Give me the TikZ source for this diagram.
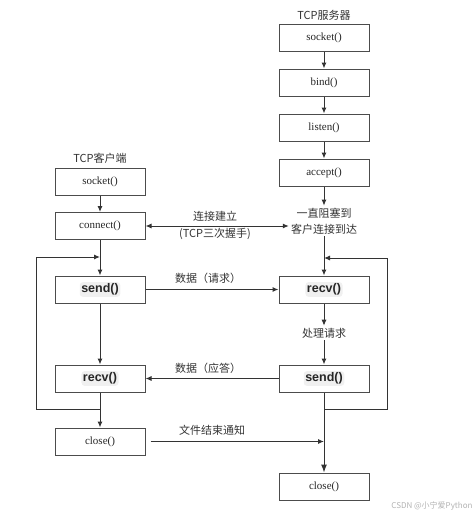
\documentclass[tikz,border=0pt]{standalone}
\usepackage{fontspec}
\setmainfont{Liberation Serif}
\newfontfamily\cjk{Noto Sans CJK SC}
\newfontfamily\arialb{Liberation Sans}
\usetikzlibrary{arrows.meta}

\tikzset{
  fn/.style={draw=black!70, line width=1pt, minimum width=90pt, minimum height=27pt, inner sep=0pt, text=black!85, font=\fontsize{11}{13}\selectfont},
  hot/.style={fn, font=\arialb\bfseries\fontsize{12.5}{14}\selectfont},
  glow/.style={fill=black!6, rounded corners=3pt, inner sep=1.5pt, text=black!85, font=\arialb\bfseries\fontsize{12.5}{14}\selectfont},
  lbl/.style={font=\cjk\fontsize{11}{16}\selectfont, text=black!80, inner sep=2pt},
  flow/.style={draw=black!80, line width=1pt, -{Latex[length=6pt,width=5pt]}},
}

\begin{document}
\begin{tikzpicture}[x=1pt, y=-1pt]
  \useasboundingbox (0,0) rectangle (474,517);
  % server side
  \node[lbl] (stitle) at (324,15) {TCP服务器};
  \node[fn] (ssock) at (324,37.5) {socket()};
  \node[fn] (sbind) at (324,82.5) {bind()};
  \node[fn] (slisten) at (324,127.5) {listen()};
  \node[fn] (saccept) at (324,172.5) {accept()};
  \node[lbl, align=center] (swait) at (324,221) {一直阻塞到\\客户连接到达};
  \node[hot] (srecv) at (324,289.5) {};
  \node[glow] at (srecv) {recv()};
  \node[lbl] (sproc) at (324,333) {处理请求};
  \node[hot] (ssend) at (324,378.5) {};
  \node[glow] at (ssend) {send()};
  \node[fn] (sclose) at (324,486.5) {close()};
  % client side
  \node[lbl] (ctitle) at (100,158) {TCP客户端};
  \node[fn] (csock) at (100,181.5) {socket()};
  \node[fn] (cconn) at (100,226) {connect()};
  \node[hot] (csend) at (100,289.5) {};
  \node[glow] at (csend) {send()};
  \node[hot] (crecv) at (100,378.5) {};
  \node[glow] at (crecv) {recv()};
  \node[fn] (cclose) at (100,441.5) {close()};
  % loop points
  \coordinate (sin) at (324,258);
  \coordinate (sout) at (324,409);
  \coordinate (cin) at (100,257);
  \coordinate (cout) at (100,409);

  \draw[flow] (ssock) -- (sbind);
  \draw[flow] (sbind) -- (slisten);
  \draw[flow] (slisten) -- (saccept);
  \draw[flow] (saccept) -- (swait);
  \draw[flow] (swait) -- (srecv);
  \draw[flow] (srecv) -- (sproc);
  \draw[flow] (sproc) -- (ssend);
  \draw[flow, -{Latex[length=8pt,width=6pt]}] (ssend) -- (sclose);
  \draw[flow] (sout) -- ++(63,0) |- (sin);

  \draw[flow] (csock) -- (cconn);
  \draw[flow] (cconn) -- (csend);
  \draw[flow] (csend) -- (crecv);
  \draw[flow] (crecv) -- (cclose);
  \draw[flow] (cout) -- ++(-64,0) |- (cin);

  % messages
  \draw[flow, {Latex[length=6pt,width=5pt]}-{Latex[length=6pt,width=5pt]}] (cconn) -- (cconn -| swait.west);
  \node[lbl] (lconn) at (215,216) {连接建立};
  \node[lbl] (ltcp) at (215,234) {(TCP三次握手)};
  \draw[flow] (csend) -- (srecv);
  \node[lbl] (lreq) at (208,278) {数据（请求）};
  \draw[flow] (ssend) -- (crecv);
  \node[lbl] (lres) at (208,368) {数据（应答）};
  \draw[flow] ([xshift=5pt]cclose.east) -- (cclose.east -| sclose);
  \node[lbl] (lfin) at (212,430) {文件结束通知};

  \node[font=\cjk\fontsize{8}{9}\selectfont, text=black!30] (mark) at (432,506) {CSDN @小宁爱Python};
\end{tikzpicture}
\end{document}
